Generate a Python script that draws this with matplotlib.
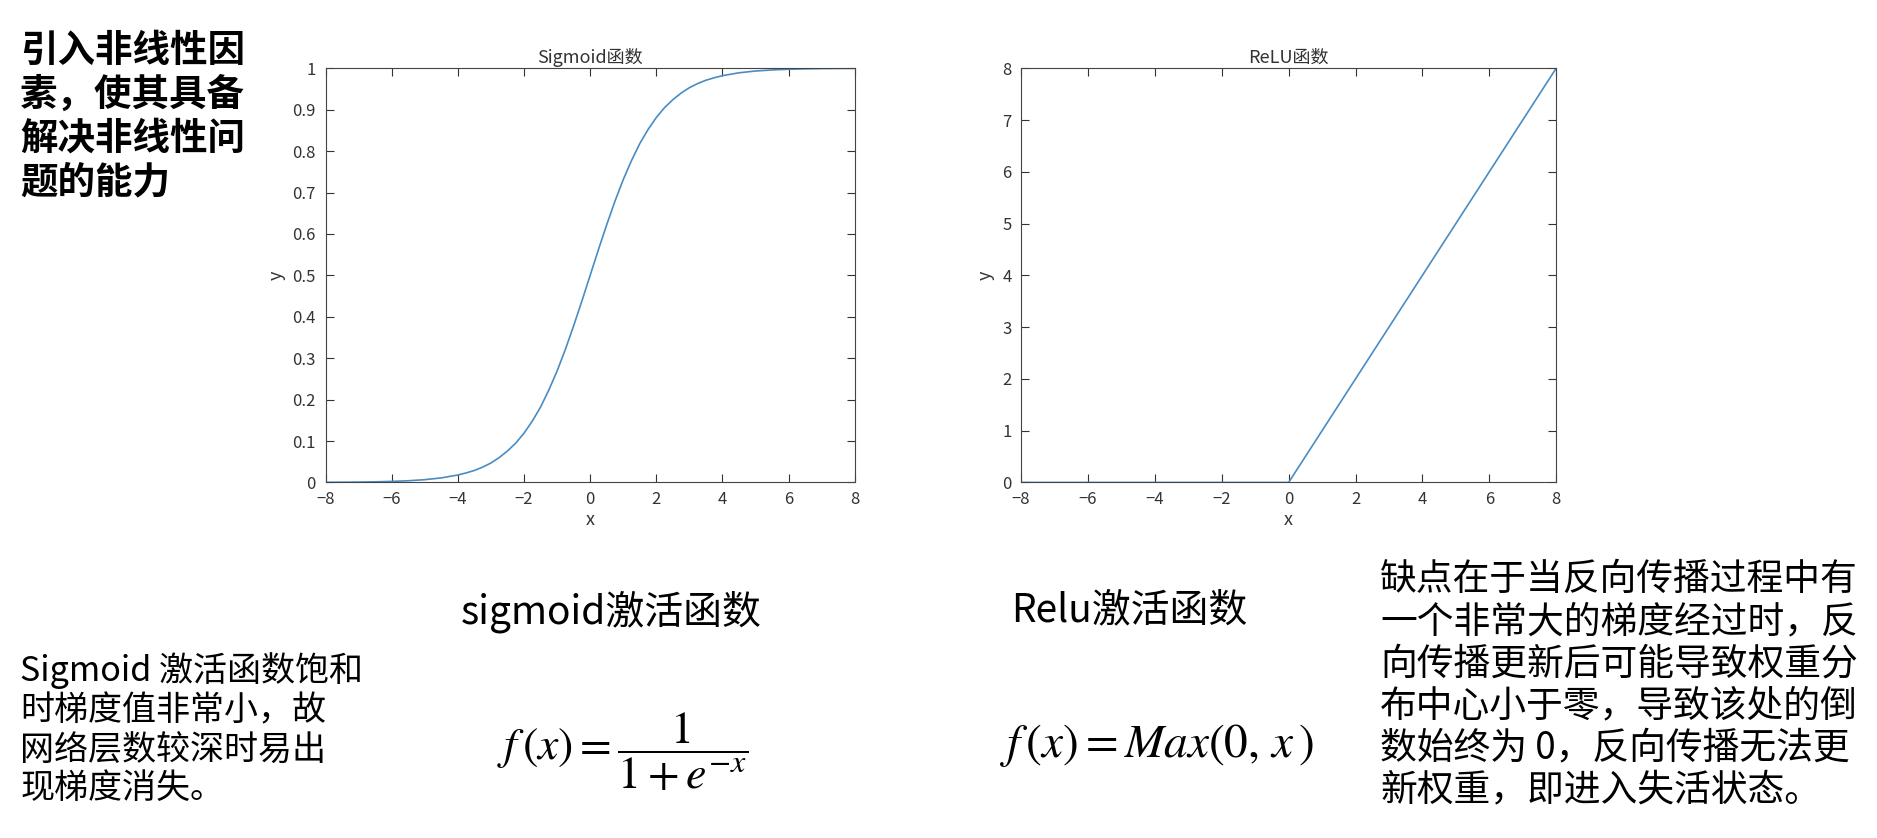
import matplotlib
matplotlib.use("Agg")
import matplotlib.pyplot as plt

plt.rcParams['font.family'] = ['Noto Sans CJK SC', 'DejaVu Sans']
plt.rcParams['mathtext.fontset'] = 'stix'

sig_x = [-8, -7.5, -7, -6.5, -6, -5.5, -5, -4.5, -4, -3.75, -3.5, -3.25, -3, -2.75, -2.5, -2.25,
         -2, -1.75, -1.5, -1.25, -1, -0.75, -0.5, -0.25, 0,
         0.25, 0.5, 0.75, 1, 1.25, 1.5, 1.75, 2, 2.25, 2.5, 2.75, 3, 3.25, 3.5, 3.75, 4,
         4.5, 5, 5.5, 6, 6.5, 7, 7.5, 8]
sig_y = [0.0003, 0.0006, 0.0009, 0.0015, 0.0025, 0.0041, 0.0067, 0.011, 0.018, 0.023, 0.029, 0.037,
         0.047, 0.060, 0.076, 0.095, 0.119, 0.148, 0.182, 0.223, 0.269, 0.321, 0.378, 0.438, 0.5,
         0.562, 0.622, 0.679, 0.731, 0.777, 0.818, 0.852, 0.881, 0.905, 0.924, 0.940, 0.953,
         0.963, 0.971, 0.977, 0.982, 0.989, 0.9933, 0.9959, 0.9975, 0.9985, 0.9991, 0.9994, 0.9997]
relu_x = [-8, 0, 8]
relu_y = [0, 0, 8]
xticks = [-8, -6, -4, -2, 0, 2, 4, 6, 8]
sig_yticks = [0, 0.1, 0.2, 0.3, 0.4, 0.5, 0.6, 0.7, 0.8, 0.9, 1]
relu_yticks = [0, 1, 2, 3, 4, 5, 6, 7, 8]

# layout measured in a 1568x700 view of the reference
W, H = 1568, 700
fig = plt.figure(figsize=(18.77, 8.38), dpi=100)
line_c = '#4a8cc2'

def setup(ax, title, yt):
    ax.set_xlim(-8, 8)
    ax.set_xticks(xticks)
    ax.set_yticks(yt)
    ax.set_yticklabels([('%g' % v) for v in yt])
    ax.tick_params(labelsize=12, direction='in', top=True, right=True, colors='#333333', length=6)
    ax.tick_params(axis='x', pad=6)
    ax.tick_params(axis='y', pad=7)
    ax.set_xlabel('x', fontsize=13, color='#333333', labelpad=2)
    ax.set_ylabel('y', fontsize=13, color='#333333', labelpad=5)
    ax.set_title(title, fontsize=13, color='#333333', pad=4)
    for s in ax.spines.values():
        s.set_color('#444444'); s.set_linewidth(0.8)

ax1 = fig.add_axes([272/W, 1-403/H, 442/W, 346/H])
ax1.plot(sig_x, sig_y, color=line_c, lw=1.2)
ax1.set_ylim(0, 1)
setup(ax1, 'Sigmoid函数', sig_yticks)

ax2 = fig.add_axes([853/W, 1-403/H, 447/W, 346/H])
ax2.plot(relu_x, relu_y, color=line_c, lw=1.2)
ax2.set_ylim(0, 8)
setup(ax2, 'ReLU函数', relu_yticks)

def t(x, y, s, size, **kw):
    fig.text(x/W, 1-y/H, s, fontsize=size, va='top', ha='left', **kw)

t(17, 26, '引入非线性因\n素，使其具备\n解决非线性问\n题的能力', 27, fontweight='bold', linespacing=1.15)
t(17, 545, 'Sigmoid 激活函数饱和\n时梯度值非常小，故\n网络层数较深时易出\n现梯度消失。', 24.5, linespacing=1.15)
t(385, 493, 'sigmoid激活函数', 28)
t(845, 493, 'Relu激活函数', 28)
t(1153, 468, '缺点在于当反向传播过程中有\n一个非常大的梯度经过时，反\n向传播更新后可能导致权重分\n布中心小于零，导致该处的倒\n数始终为 0，反向传播无法更\n新权重，即进入失活状态。', 26.5, linespacing=1.1)
fig.text(415/W, 1-628/H, r'$f\,(x)=\dfrac{1}{1+e^{-x}}$', fontsize=33, va='center', ha='left')
fig.text(835/W, 1-622/H, r'$f\,(x)=Max(0,\,x\,)$', fontsize=34, va='center', ha='left')

fig.savefig('out.png', dpi=100)
